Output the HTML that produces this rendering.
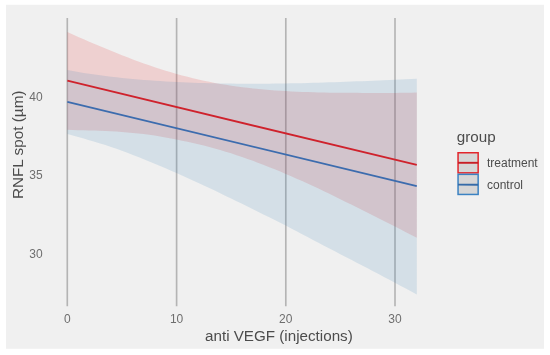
<!DOCTYPE html>
<html><head><meta charset="utf-8"><style>
html,body{margin:0;padding:0;background:#fff;}
body{width:550px;height:355px;overflow:hidden;position:relative;font-family:"Liberation Sans",Arial,sans-serif;}
svg{position:absolute;left:0;top:0;}
text{font-family:"Liberation Sans",Arial,sans-serif;}
</style></head><body>
<svg width="550" height="355" viewBox="0 0 550 355">
<rect x="6" y="4.8" width="538" height="344" fill="#f0f0f0"/>
<g stroke="#b4b4b4" stroke-width="1.65">
<line x1="67.3" y1="18" x2="67.3" y2="306.3"/>
<line x1="176.6" y1="18" x2="176.6" y2="306.3"/>
<line x1="285.8" y1="18" x2="285.8" y2="306.3"/>
<line x1="395.0" y1="18" x2="395.0" y2="306.3"/>
</g>
<path d="M67.35,32.07 L72.81,34.51 L78.27,36.93 L83.73,39.33 L89.19,41.70 L94.65,44.04 L100.11,46.35 L105.57,48.62 L111.03,50.86 L116.49,53.07 L121.95,55.23 L127.41,57.34 L132.87,59.41 L138.33,61.43 L143.79,63.39 L149.25,65.30 L154.71,67.15 L160.17,68.94 L165.63,70.66 L171.09,72.31 L176.55,73.89 L182.01,75.40 L187.47,76.84 L192.93,78.20 L198.39,79.49 L203.85,80.70 L209.31,81.84 L214.77,82.90 L220.23,83.89 L225.69,84.82 L231.15,85.67 L236.61,86.46 L242.07,87.19 L247.53,87.86 L252.99,88.47 L258.45,89.02 L263.91,89.53 L269.37,89.99 L274.83,90.41 L280.29,90.78 L285.75,91.11 L291.21,91.41 L296.67,91.67 L302.13,91.90 L307.59,92.10 L313.05,92.28 L318.51,92.42 L323.97,92.55 L329.43,92.65 L334.89,92.73 L340.35,92.79 L345.81,92.83 L351.27,92.85 L356.73,92.87 L362.19,92.88 L367.65,92.90 L373.11,92.92 L378.57,92.93 L384.03,92.93 L389.49,92.92 L394.95,92.89 L400.41,92.85 L405.87,92.79 L411.33,92.70 L416.79,92.59 L416.79,237.82 L411.33,234.97 L405.87,232.13 L400.41,229.30 L394.95,226.49 L389.49,223.70 L384.03,220.92 L378.57,218.15 L373.11,215.41 L367.65,212.67 L362.19,209.95 L356.73,207.25 L351.27,204.56 L345.81,201.88 L340.35,199.19 L334.89,196.50 L329.43,193.83 L323.97,191.18 L318.51,188.58 L313.05,186.02 L307.59,183.52 L302.13,181.07 L296.67,178.65 L291.21,176.27 L285.75,173.92 L280.29,171.62 L274.83,169.36 L269.37,167.16 L263.91,165.00 L258.45,162.90 L252.99,160.87 L247.53,158.89 L242.07,156.99 L236.61,155.14 L231.15,153.37 L225.69,151.65 L220.23,150.01 L214.77,148.44 L209.31,146.95 L203.85,145.53 L198.39,144.19 L192.93,142.93 L187.47,141.74 L182.01,140.64 L176.55,139.61 L171.09,138.57 L165.63,137.47 L160.17,136.39 L154.71,135.43 L149.25,134.66 L143.79,134.02 L138.33,133.46 L132.87,132.95 L127.41,132.47 L121.95,132.01 L116.49,131.58 L111.03,131.23 L105.57,130.97 L100.11,130.76 L94.65,130.59 L89.19,130.46 L83.73,130.33 L78.27,130.19 L72.81,130.03 L67.35,129.83Z" fill="#e41a1c" fill-opacity="0.15"/>
<path d="M67.35,70.12 L72.81,71.10 L78.27,72.03 L83.73,72.91 L89.19,73.75 L94.65,74.54 L100.11,75.30 L105.57,76.01 L111.03,76.67 L116.49,77.30 L121.95,77.89 L127.41,78.45 L132.87,78.97 L138.33,79.45 L143.79,79.90 L149.25,80.32 L154.71,80.71 L160.17,81.07 L165.63,81.41 L171.09,81.71 L176.55,81.99 L182.01,82.25 L187.47,82.48 L192.93,82.69 L198.39,82.88 L203.85,83.04 L209.31,83.19 L214.77,83.31 L220.23,83.42 L225.69,83.51 L231.15,83.58 L236.61,83.64 L242.07,83.67 L247.53,83.70 L252.99,83.70 L258.45,83.69 L263.91,83.67 L269.37,83.63 L274.83,83.58 L280.29,83.52 L285.75,83.44 L291.21,83.35 L296.67,83.24 L302.13,83.13 L307.59,83.00 L313.05,82.86 L318.51,82.71 L323.97,82.54 L329.43,82.37 L334.89,82.19 L340.35,81.99 L345.81,81.79 L351.27,81.57 L356.73,81.36 L362.19,81.15 L367.65,80.94 L373.11,80.74 L378.57,80.53 L384.03,80.32 L389.49,80.10 L394.95,79.87 L400.41,79.62 L405.87,79.35 L411.33,79.06 L416.79,78.74 L416.79,294.49 L411.33,291.52 L405.87,288.58 L400.41,285.66 L394.95,282.76 L389.49,279.86 L384.03,276.96 L378.57,274.03 L373.11,271.15 L367.65,268.33 L362.19,265.53 L356.73,262.72 L351.27,259.87 L345.81,257.00 L340.35,254.14 L334.89,251.30 L329.43,248.48 L323.97,245.65 L318.51,242.83 L313.05,239.98 L307.59,237.08 L302.13,234.16 L296.67,231.26 L291.21,228.40 L285.75,225.60 L280.29,222.85 L274.83,220.10 L269.37,217.36 L263.91,214.63 L258.45,211.91 L252.99,209.20 L247.53,206.52 L242.07,203.86 L236.61,201.23 L231.15,198.60 L225.69,195.91 L220.23,193.22 L214.77,190.57 L209.31,188.00 L203.85,185.47 L198.39,182.94 L192.93,180.41 L187.47,177.90 L182.01,175.44 L176.55,173.04 L171.09,170.68 L165.63,168.34 L160.17,166.02 L154.71,163.73 L149.25,161.46 L143.79,159.23 L138.33,157.05 L132.87,154.90 L127.41,152.81 L121.95,150.77 L116.49,148.80 L111.03,146.92 L105.57,145.12 L100.11,143.40 L94.65,141.74 L89.19,140.13 L83.73,138.57 L78.27,137.04 L72.81,135.54 L67.35,134.05Z" fill="#377eb8" fill-opacity="0.15"/>
<line x1="67.35" y1="80.70" x2="416.79" y2="164.92" stroke="#cf222c" stroke-width="1.9"/>
<line x1="67.35" y1="101.90" x2="416.79" y2="186.12" stroke="#3c6cae" stroke-width="1.9"/>
<g font-size="12" fill="#6e6e6e" text-anchor="end">
<text x="42.6" y="100.6">40</text>
<text x="42.6" y="179.4">35</text>
<text x="42.6" y="258.2">30</text>
</g>
<g font-size="12" fill="#6e6e6e" text-anchor="middle">
<text x="67.3" y="323.2">0</text>
<text x="176.6" y="323.2">10</text>
<text x="285.8" y="323.2">20</text>
<text x="395.0" y="323.2">30</text>
</g>
<text x="278.9" y="340.6" font-size="15.2" fill="#4c4c4c" text-anchor="middle">anti VEGF (injections)</text>
<text transform="translate(22.5,144.8) rotate(-90)" font-size="15.3" fill="#4c4c4c" text-anchor="middle">RNFL spot (µm)</text>
<text x="456.8" y="142.4" font-size="15.2" fill="#4c4c4c">group</text>
<rect x="458.05" y="152.75" width="20.1" height="20.1" fill="#d6d6d6" stroke="#e2262c" stroke-width="1.5"/>
<line x1="458" y1="162.8" x2="478.2" y2="162.8" stroke="#c81e25" stroke-width="1.9"/>
<rect x="458.05" y="174.35" width="20.1" height="20.1" fill="#d6d6d6" stroke="#3b82c2" stroke-width="1.5"/>
<line x1="458" y1="184.6" x2="478.2" y2="184.7" stroke="#356ba8" stroke-width="1.9"/>
<g font-size="12" fill="#4c4c4c">
<text x="487" y="167.2">treatment</text>
<text x="487" y="188.8">control</text>
</g>
</svg>
</body></html>
